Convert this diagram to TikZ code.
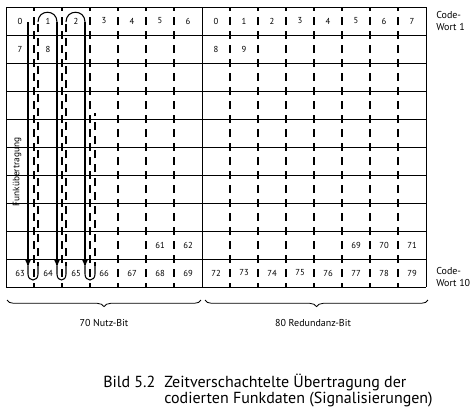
\documentclass[tikz,border=0pt]{standalone}
\usepackage{fontspec}
\setmainfont{PT Sans}
\usetikzlibrary{arrows}
\usetikzlibrary{calc}
\usetikzlibrary{decorations.pathreplacing}
\tikzset{>=stealth'}
\tikzset{gridline/.style={line width=0.7pt}}
\tikzset{griddash/.style={line width=0.9pt,dash pattern=on 6pt off 4.5pt,dash phase=3pt}}
\tikzset{loopline/.style={line width=0.8pt}}
\tikzset{num/.style={font=\fontsize{6.5}{7}\selectfont,inner sep=0pt}}
\tikzset{lbl/.style={font=\fontsize{7.5}{9}\selectfont,align=left,inner sep=0pt}}
\tikzset{capt/.style={anchor=base west,inner sep=0pt,font=\fontsize{12}{14}\selectfont}}
\tikzset{brc/.style={line width=0.6pt,decorate,decoration={brace,mirror,amplitude=5pt}}}

\begin{document}
\begin{tikzpicture}[x=0.75pt,y=-0.75pt]
\useasboundingbox (0,0) rectangle (474,411);

% grid
\foreach \r in {0,...,10}
  \draw[gridline] (6,{7+28*\r}) -- (426,{7+28*\r});
\foreach \c in {1,...,6}
  \draw[griddash] ({6+28*\c},7) -- ({6+28*\c},287);
\foreach \c in {1,...,7}
  \draw[griddash] ({202+28*\c},7) -- ({202+28*\c},287);
\draw[gridline] (6,7) -- (6,287);
\draw[gridline] (202,7) -- (202,287);
\draw[gridline] (426,7) -- (426,287);

% bit numbers
\foreach \c in {0,...,6}
  \node[num] (nt\c) at ({20+28*\c},21) {\c};
\foreach \c in {0,...,7}
  \node[num] (rt\c) at ({216+28*\c},21) {\c};
\node[num] (n7) at (20,49) {7};
\node[num] (n8) at (48,49) {8};
\node[num] (r8) at (216,49) {8};
\node[num] (r9) at (244,49) {9};
\node[num] (n61) at (160,245) {61};
\node[num] (n62) at (188,245) {62};
\node[num] (r69) at (356,245) {69};
\node[num] (r70) at (384,245) {70};
\node[num] (r71) at (412,245) {71};
\foreach \c [evaluate=\c as \v using int(63+\c)] in {0,...,6}
  \node[num] (nb\c) at ({20+28*\c},273) {\v};
\foreach \c [evaluate=\c as \v using int(72+\c)] in {0,...,7}
  \node[num] (rb\c) at ({216+28*\c},273) {\v};

% transmission order
\foreach \d/\u [count=\i] in {28/38,57/66,85/95} {
  \coordinate (dn\i) at (\d,22);
  \coordinate (ar\i) at (\d,266);
  \coordinate (up\i) at (\u,266);
  \draw[loopline,->] (dn\i) -- (ar\i);
  \draw[loopline] (ar\i) -- ++(0,8) .. controls +(0,8) and +(0,8) .. ($(up\i)+(0,8)$) -- (up\i);
}
\coordinate (ut1) at (38,22);
\coordinate (ut2) at (66,22);
\coordinate (ut3) at (95,113);
\draw[griddash] (up1) -- (ut1);
\draw[griddash] (up2) -- (ut2);
\draw[griddash] (up3) -- (ut3);
\draw[loopline] (ut1) .. controls +(0,-13) and +(0,-13) .. (dn2);
\draw[loopline] (ut2) .. controls +(0,-13) and +(0,-13) .. (dn3);

\node[lbl,font=\fontsize{7}{8}\selectfont,rotate=90] (funk) at (17,172) {Funkübertragung};

% code words
\node[lbl,anchor=west] (cw1) at (436,21) {Code-\\Wort 1};
\node[lbl,anchor=west] (cw10) at (436,277) {Code-\\Wort 10};

% braces
\coordinate (nl) at (7,300);
\coordinate (nr) at (201,300);
\coordinate (rl) at (205,300);
\coordinate (rr) at (428,300);
\draw[brc] (nl) -- (nr);
\draw[brc] (rl) -- (rr);
\node[lbl] (nutz) at (104,323) {70 Nutz-Bit};
\node[lbl] (red) at (313,323) {80 Redundanz-Bit};

% caption
\node[capt] (bild) at (103,387) {Bild 5.2};
\node[capt] (cap1) at (164,387) {Zeitverschachtelte Übertragung der};
\node[capt] (cap2) at (164,403) {codierten Funkdaten (Signalisierungen)};
\end{tikzpicture}
\end{document}
